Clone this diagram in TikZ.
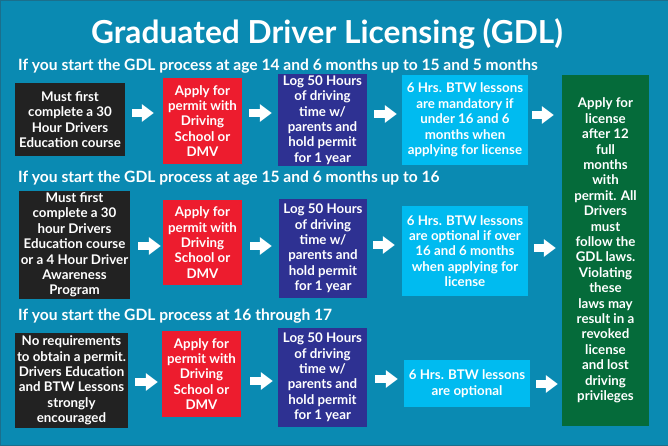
\documentclass[tikz,border=0pt]{standalone}
\usepackage{fontspec}
\setmainfont{Lato}[BoldFont={Lato Bold}]
\usepackage{xcolor}
\usetikzlibrary{arrows.meta,positioning}

\definecolor{panelblue}{HTML}{0A8AB2}
\definecolor{edgeblue}{HTML}{1B6F8C}
\definecolor{boxblack}{HTML}{222222}
\definecolor{boxred}{HTML}{ED1C2E}
\definecolor{boxnavy}{HTML}{2E3192}
\definecolor{boxcyan}{HTML}{00BBF0}
\definecolor{boxgreen}{HTML}{056B3A}

\tikzset{
    stage/.style={text=white, font=\fontsize{13.3}{15.4}\selectfont\bfseries, align=center, inner sep=0pt, execute at begin node={\rule{0pt}{14pt}}},
    heading/.style={text=white, anchor=west, inner sep=0pt, font=\fontsize{15.6}{18}\selectfont\bfseries},
    flow/.style={white, line width=8pt, -{Triangle[length=12pt,width=17pt]}}
}

\begin{document}
\begin{tikzpicture}[x=1pt,y=-1pt]
    \useasboundingbox (0,0) rectangle (668,445);
    \fill[panelblue, draw=edgeblue, line width=1pt] (0,0) rectangle (668,445);

    \node[text=white, font=\fontsize{31.7}{36}\selectfont\bfseries, inner sep=0pt] (title) at (327,33.5) {Graduated Driver Licensing (GDL)};

    % Age 14 and 6 months
    \node[heading] (headA) at (18,66) {If you start the GDL process at age 14 and 6 months up to 15 and 5 months};
    \node[stage, fill=boxblack, minimum width=110pt, minimum height=73pt] (courseA) at (70,119.5) {Must first\\complete a 30\\Hour Drivers\\Education course};
    \node[stage, fill=boxred, minimum width=79pt, minimum height=86pt] (permitA) at (202.5,121) {Apply for\\permit with\\Driving\\School or\\DMV};
    \node[stage, fill=boxnavy, minimum width=89pt, minimum height=92pt] (logA) at (322.5,120) {Log 50 Hours\\of driving\\time w/\\parents and\\hold permit\\for 1 year};
    \node[stage, fill=boxcyan, minimum width=126pt, minimum height=90pt] (lessonsA) at (465,120) {6 Hrs. BTW lessons\\are mandatory if\\under 16 and 6\\months when\\applying for license};

    % Age 15 and 6 months
    \node[heading] (headB) at (18,178) {If you start the GDL process at age 15 and 6 months up to 16};
    \node[stage, fill=boxblack, minimum width=111pt, minimum height=108pt] (courseB) at (74.5,245) {Must first\\complete a 30\\hour Drivers\\Education course\\or a 4 Hour Driver\\Awareness\\Program};
    \node[stage, fill=boxred, minimum width=79pt, minimum height=85pt] (permitB) at (202.5,242.5) {Apply for\\permit with\\Driving\\School or\\DMV};
    \node[stage, fill=boxnavy, minimum width=88pt, minimum height=99pt] (logB) at (323,248.5) {Log 50 Hours\\of driving\\time w/\\parents and\\hold permit\\for 1 year};
    \node[stage, fill=boxcyan, minimum width=126pt, minimum height=90pt] (lessonsB) at (465,251) {6 Hrs. BTW lessons\\are optional if over\\16 and 6 months\\when applying for\\license};

    % Age 16 through 17
    \node[heading] (headC) at (18,316) {If you start the GDL process at 16 through 17};
    \node[stage, fill=boxblack, minimum width=113pt, minimum height=95pt] (courseC) at (71.5,380.5) {No requirements\\to obtain a permit.\\Drivers Education\\and BTW Lessons\\strongly\\encouraged};
    \node[stage, fill=boxred, minimum width=79pt, minimum height=86pt] (permitC) at (201.5,374) {Apply for\\permit with\\Driving\\School or\\DMV};
    \node[stage, fill=boxnavy, minimum width=89pt, minimum height=99pt] (logC) at (322.5,377.5) {Log 50 Hours\\of driving\\time w/\\parents and\\hold permit\\for 1 year};
    \node[stage, fill=boxcyan, minimum width=126pt, minimum height=47pt] (lessonsC) at (467,383.5) {6 Hrs. BTW lessons\\are optional};

    % Last step
    \node[stage, fill=boxgreen, minimum width=87pt, minimum height=351pt] (apply) at (605.5,250.5) {Apply for\\license\\after 12\\full\\months\\with\\permit. All\\Drivers\\must\\follow the\\GDL laws.\\Violating\\these\\laws may\\result in a\\revoked\\license\\and lost\\driving\\privileges};

    \draw[flow, shorten <=7pt, shorten >=9pt] (courseA.east |- 0,113) -- (permitA.west |- 0,113);
    \draw[flow, shorten <=7pt, shorten >=6pt] (permitA.east |- 0,113) -- (logA.west |- 0,113);
    \draw[flow, shorten <=7pt, shorten >=5pt] (logA.east |- 0,114) -- (lessonsA.west |- 0,114);
    \draw[flow, shorten <=4pt, shorten >=8pt] (lessonsA.east |- 0,115) -- (apply.west |- 0,115);

    \draw[flow, shorten <=8pt, shorten >=2pt] (courseB.east |- 0,246) -- (permitB.west |- 0,246);
    \draw[flow, shorten <=8pt, shorten >=7pt] (permitB.east |- 0,246) -- (logB.west |- 0,246);
    \draw[flow, shorten <=6pt, shorten >=7pt] (logB.east |- 0,245) -- (lessonsB.west |- 0,245);
    \draw[flow, shorten <=6pt, shorten >=6pt] (lessonsB.east |- 0,248) -- (apply.west |- 0,248);

    \draw[flow, shorten <=7pt, shorten >=4pt] (courseC.east |- 0,382) -- (permitC.west |- 0,382);
    \draw[flow, shorten <=9pt, shorten >=5pt] (permitC.east |- 0,381) -- (logC.west |- 0,381);
    \draw[flow, shorten <=8pt, shorten >=6pt] (logC.east |- 0,379) -- (lessonsC.west |- 0,379);
    \draw[flow, shorten <=6pt, shorten >=4pt] (lessonsC.east |- 0,384) -- (apply.west |- 0,384);
\end{tikzpicture}
\end{document}
